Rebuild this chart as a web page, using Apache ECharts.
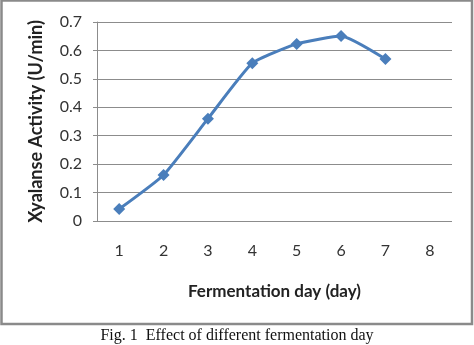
<!DOCTYPE html>
<html><head><meta charset="utf-8">
<script src="https://cdn.jsdelivr.net/npm/echarts@6/dist/echarts.min.js"></script>
<style>html,body{margin:0;padding:0;background:#fff}#c{width:474px;height:345px}</style>
</head><body><div id="c"></div>
<script>
const days = ['1','2','3','4','5','6','7','8'];
const activity = [0.042, 0.162, 0.36, 0.555, 0.623, 0.651, 0.57];
const yTicks = [0, 0.1, 0.2, 0.3, 0.4, 0.5, 0.6, 0.7];
const yTitle = 'Xyalanse Activity (U/min)';
const xTitle = 'Fermentation day (day)';
const caption = 'Fig. 1  Effect of different fermentation day';

const chart = echarts.init(document.getElementById('c'), null, {renderer:'canvas'});
chart.setOption({
  animation:false,
  backgroundColor:'#fff',
  grid:{left:97, right:22, top:22, bottom:124, containLabel:false},
  graphic:[
    {type:'rect', shape:{x:1.5, y:0.5, width:470.5, height:323.5}, style:{fill:'none', stroke:'#8a8a8a', lineWidth:2.5}, silent:true},
    {type:'text', left:'center', top:328, style:{text:caption, font:'16px "Liberation Serif"', fill:'#111'}}
  ],
  xAxis:{
    type:'category', data:days, boundaryGap:true,
    name:xTitle, nameLocation:'middle', nameGap:62,
    nameTextStyle:{fontFamily:'Lato', fontWeight:'bold', fontSize:17, color:'#222'},
    axisLine:{show:false}, axisTick:{show:false},
    axisLabel:{fontFamily:'Lato', fontSize:16, color:'#333', margin:22}
  },
  yAxis:{
    type:'value', min:0, max:0.7, interval:0.1,
    name:yTitle, nameLocation:'middle', nameGap:52,
    nameTextStyle:{fontFamily:'Lato', fontWeight:'bold', fontSize:18, color:'#222'},
    axisLine:{show:true, lineStyle:{color:'#8c8c8c', width:1}},
    axisTick:{show:true, length:4, lineStyle:{color:'#8c8c8c'}},
    splitLine:{show:true, lineStyle:{color:'#8c8c8c', width:1}},
    axisLabel:{fontFamily:'Lato', fontSize:16, color:'#333', margin:15,
      formatter:function(v){return yTicks.indexOf(Math.round(v*10)/10)>=0 ? String(Math.round(v*10)/10) : '';}}
  },
  series:[{
    type:'line', data:activity, smooth:0.15,
    symbol:'diamond', symbolSize:12,
    lineStyle:{color:'#4a7ebb', width:3},
    itemStyle:{color:'#4a7ebb'}
  }]
});
</script></body></html>
